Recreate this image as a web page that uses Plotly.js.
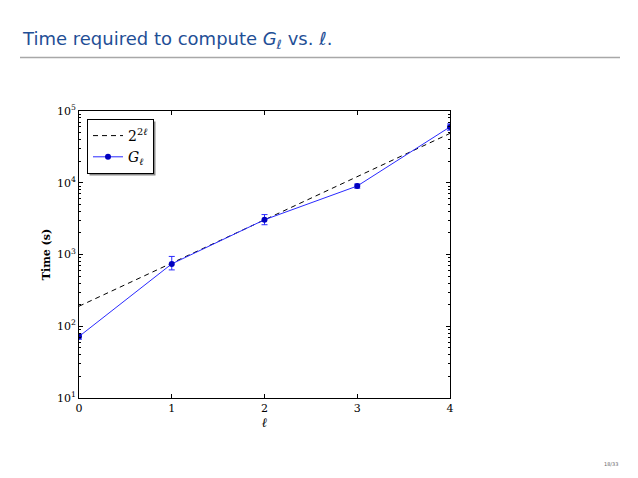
<!DOCTYPE html>
<html><head><meta charset="utf-8">
<script src="https://cdn.plot.ly/plotly-3.0.1.min.js"></script>
<style>html,body{margin:0;padding:0;background:#fff}#chart{width:638px;height:478px}</style>
</head><body><div id="chart"></div>
<script>
const ell = [0, 1, 2, 3, 4];
const gTime = [72, 740, 3050, 9000, 60000];
const gErrPlus = [6, 200, 550, 600, 6000];
const gErrMinus = [6, 130, 450, 600, 6000];
const refTime = [190, 760, 3040, 12200, 48700];
const yTickVals = [10, 100, 1000, 10000, 100000];
const yTickText = ['10<sup>1</sup>', '10<sup>2</sup>', '10<sup>3</sup>', '10<sup>4</sup>', '10<sup>5</sup>'];
const xTickVals = [0, 1, 2, 3, 4];
const xTickText = ['0', '1', '2', '3', '4'];

const minorVals = [];
for (let d = 1; d <= 4; d++) for (let k = 2; k <= 9; k++) minorVals.push(k * Math.pow(10, d));

const serif = 'DejaVu Serif, Liberation Serif, serif';
const L = 79, R = 450, T = 111, B = 398;
const px = x => (x - L) / (R - L);
const py = y => (B - y) / (B - T);

const traces = [
  {x: ell, y: refTime, mode: 'lines', name: '2<sup>2<i>ℓ</i></sup>',
   line: {color: '#000', width: 1, dash: '5px,4px'}},
  {x: ell, y: gTime, mode: 'lines+markers', name: '<i>G<sub>ℓ</sub></i>',
   line: {color: '#2a2aff', width: 1},
   marker: {color: '#0000c0', size: 6},
   error_y: {type: 'data', symmetric: false, array: gErrPlus, arrayminus: gErrMinus,
             color: '#2a2aff', thickness: 1, width: 3}}
];

const layout = {
  width: 638, height: 478,
  margin: {l: L, r: 638 - R, t: T, b: 478 - B},
  paper_bgcolor: '#fff', plot_bgcolor: '#fff',
  showlegend: true,
  font: {family: serif, color: '#000', size: 11},
  xaxis: {range: [0, 4], tickvals: xTickVals, ticktext: xTickText,
    ticks: 'inside', ticklen: 4, tickcolor: '#000', showgrid: false, zeroline: false,
    showline: true, linecolor: '#000', linewidth: 1, mirror: 'allticks',
    tickfont: {family: serif, size: 11},
    title: {text: '<i>ℓ</i>', font: {family: serif, size: 13}, standoff: 2}},
  yaxis: {type: 'log', range: [1, 5], tickvals: yTickVals, ticktext: yTickText,
    ticks: 'inside', ticklen: 4, tickcolor: '#000', showgrid: false, zeroline: false,
    showline: true, linecolor: '#000', linewidth: 1, mirror: 'allticks',
    tickfont: {family: serif, size: 11},
    minor: {tickvals: minorVals, ticks: 'inside', ticklen: 2, tickcolor: '#000', showgrid: false},
    title: {text: '<b>Time (s)</b>', font: {family: serif, size: 11}, standoff: 4}},
  legend: {x: px(87), y: py(119), xanchor: 'left', yanchor: 'top',
    bgcolor: '#fff', bordercolor: '#000', borderwidth: 1,
    font: {family: serif, size: 14}, itemwidth: 30, tracegroupgap: 0},
  shapes: [
    {type: 'rect', xref: 'paper', yref: 'paper', x0: px(90), x1: px(160), y0: py(173), y1: py(122),
     fillcolor: '#8a8a8a', line: {width: 0}, layer: 'above'},
    {type: 'line', xref: 'paper', yref: 'paper', x0: px(20), x1: px(620), y0: py(57.5), y1: py(57.5),
     line: {color: '#a8a8a8', width: 1.5}}
  ],
  annotations: [
    {xref: 'paper', yref: 'paper', x: px(20), y: py(40), xanchor: 'left', yanchor: 'middle',
     showarrow: false, text: 'Time required to compute <i>G<sub>ℓ</sub></i> vs. <i>ℓ</i>.',
     font: {family: 'DejaVu Sans, sans-serif', size: 18, color: '#1f4f96'}},
    {xref: 'paper', yref: 'paper', x: px(620), y: py(464), xanchor: 'right', yanchor: 'middle',
     showarrow: false, text: '18/33', font: {family: 'DejaVu Sans, sans-serif', size: 5, color: '#666'}}
  ]
};
Plotly.newPlot('chart', traces, layout, {displayModeBar: false, staticPlot: true}).then(() => {
  const bg = document.querySelector('.legend .bg');
  if (bg) {
    const bb = bg.getBBox();
    const leg = document.querySelector('.legend').getBoundingClientRect();
    const s = layout.shapes[0];
    s.x0 = px(leg.left + 2); s.x1 = px(leg.left + bb.width + 2);
    s.y1 = py(leg.top + 2); s.y0 = py(leg.top + bb.height + 2);
    Plotly.relayout('chart', {shapes: layout.shapes});
  }
});
</script></body></html>
